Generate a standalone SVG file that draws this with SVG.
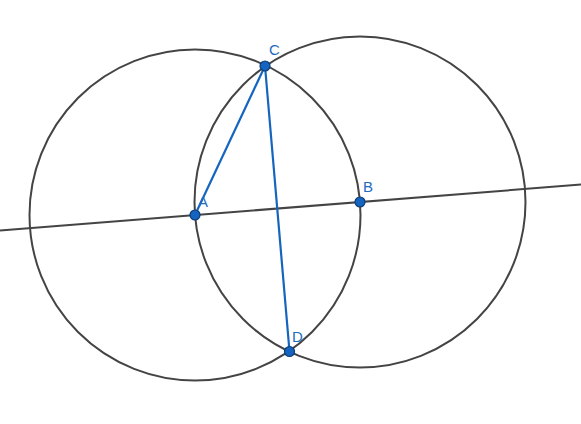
<svg xmlns="http://www.w3.org/2000/svg" width="581" height="424" viewBox="0 0 581 424">
<style>
.c{fill:none;stroke:#444;stroke-width:2}
.s{stroke:#1565c0;stroke-width:2.2;fill:none}
.p{fill:#1565c0;stroke:#0d3c78;stroke-width:1.2}
.t{font-family:"Liberation Sans",Arial,sans-serif;font-size:15px;fill:#1e6bc0}
</style>
<rect width="581" height="424" fill="#fff"/>
<g id="connectors">
<circle class="c" cx="195" cy="215" r="165.5"/>
<circle class="c" cx="360" cy="202" r="165.5"/>
<line class="c" x1="0" y1="230.4" x2="581" y2="184.6"/>
<line class="s" x1="195" y1="215" x2="265" y2="66"/>
<line class="s" x1="265" y1="66" x2="289.5" y2="351.5"/>
</g>
<g id="A"><circle class="p" cx="195" cy="215" r="5"/><text class="t" x="198" y="207">A</text></g>
<g id="B"><circle class="p" cx="360" cy="202" r="5"/><text class="t" x="363" y="192">B</text></g>
<g id="C"><circle class="p" cx="265" cy="66" r="5"/><text class="t" x="269" y="55">C</text></g>
<g id="D"><circle class="p" cx="289.5" cy="351.5" r="5"/><text class="t" x="292" y="342">D</text></g>
</svg>
